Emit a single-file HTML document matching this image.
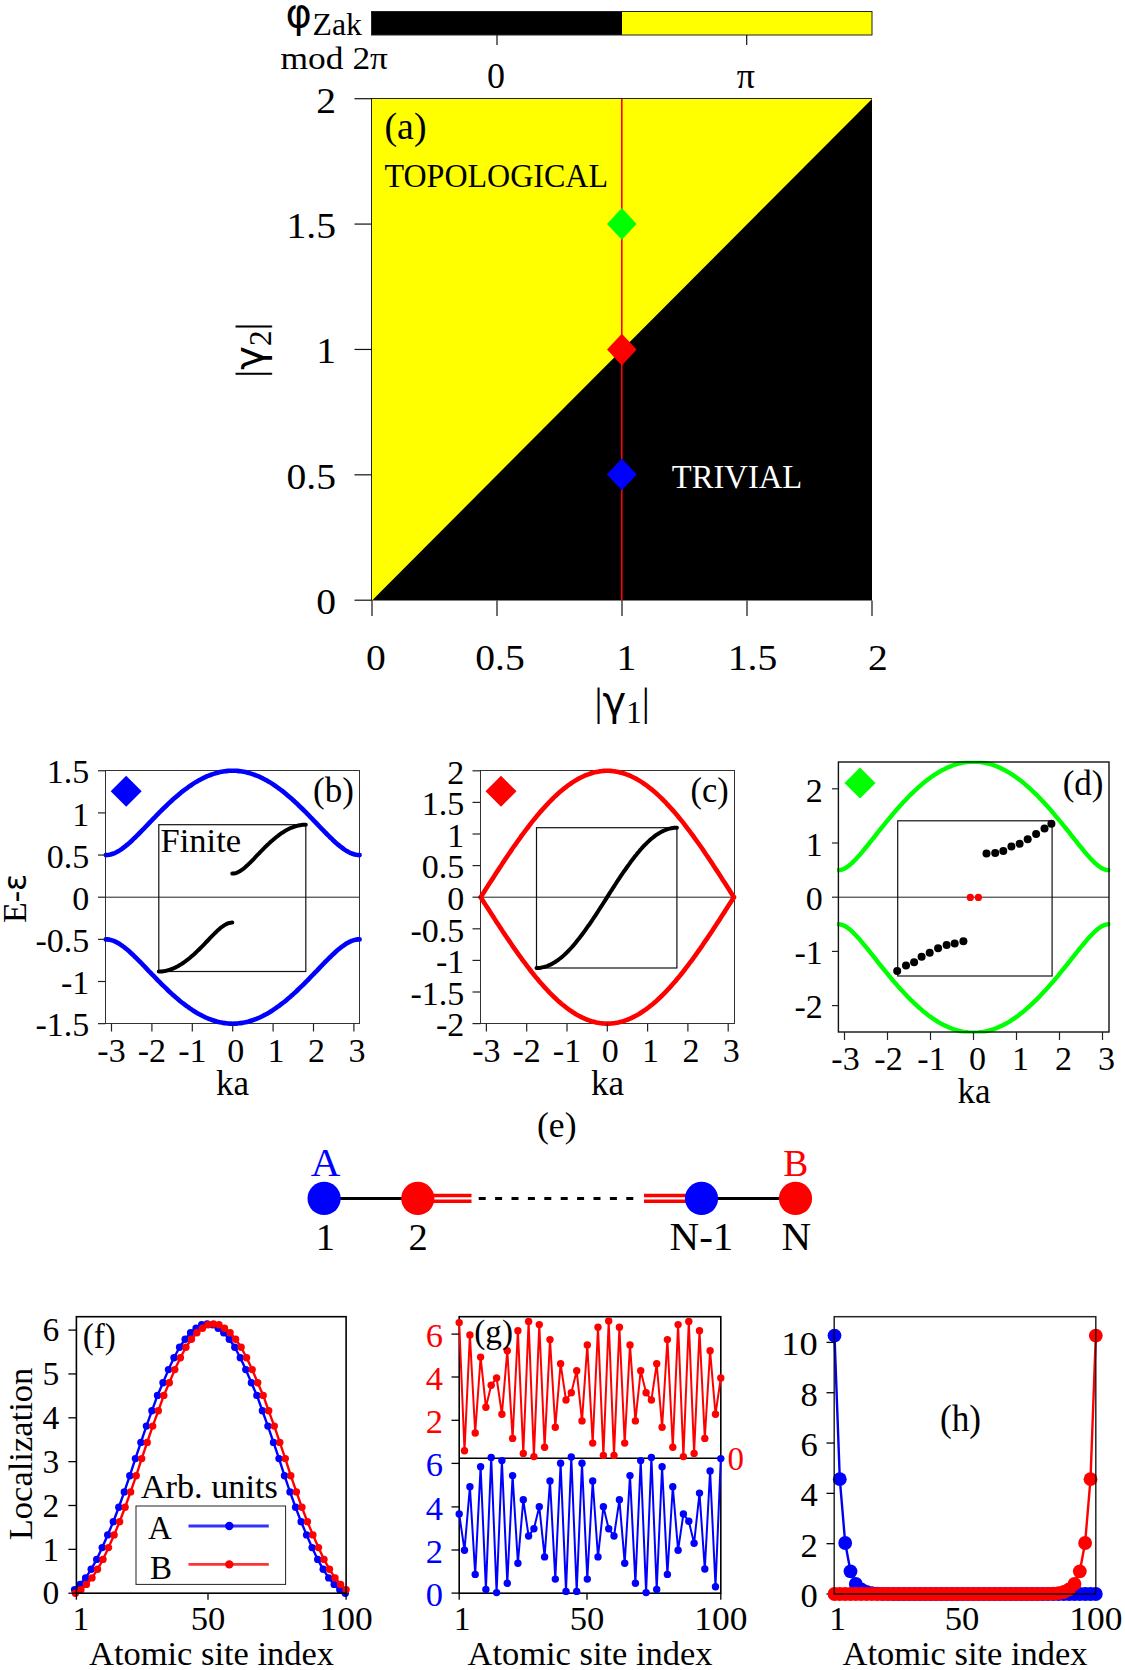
<!DOCTYPE html>
<html><head><meta charset="utf-8"><title>Figure</title>
<style>html,body{margin:0;padding:0;background:#fff}svg{display:block}</style></head>
<body>
<svg width="1125" height="1670" viewBox="0 0 1125 1670">
<rect width="1125" height="1670" fill="#fff"/>
<rect x="372" y="11.5" width="250" height="23.5" fill="#000" stroke="none" stroke-width="1"/>
<rect x="622" y="11.5" width="250" height="23.5" fill="#ffff00" stroke="none" stroke-width="1"/>
<rect x="371.5" y="11.5" width="500.5" height="23.5" fill="none" stroke="#222" stroke-width="1"/>
<line x1="497" y1="35" x2="497" y2="45" stroke="#111" stroke-width="1.2"/>
<line x1="746.7" y1="35" x2="746.7" y2="45" stroke="#111" stroke-width="1.2"/>
<text x="496" y="87.6" font-size="36" font-family='"Liberation Serif", serif' fill="#000" text-anchor="middle">0</text>
<text x="745.8" y="87.6" font-size="36" font-family='"Liberation Serif", serif' fill="#000" text-anchor="middle">π</text>
<text x="285.5" y="26.8" font-size="40" font-family='"DejaVu Sans", sans-serif' fill="#000">φ</text>
<text x="312.5" y="35" font-size="31" font-family='"Liberation Serif", serif' fill="#000" textLength="49.5" lengthAdjust="spacingAndGlyphs">Zak</text>
<text x="280.5" y="68.5" font-size="32" font-family='"Liberation Serif", serif' fill="#000" textLength="107.5" lengthAdjust="spacingAndGlyphs">mod 2π</text>
<rect x="372" y="99" width="500" height="501.5" fill="#000" stroke="none" stroke-width="1"/>
<polygon points="372,99 872,99 372,600.5" fill="#ffff00"/>
<line x1="372" y1="98.5" x2="872" y2="98.5" stroke="#222" stroke-width="1"/>
<line x1="371.5" y1="98" x2="371.5" y2="600.5" stroke="#222" stroke-width="1"/>
<line x1="621.8" y1="99" x2="621.8" y2="600.5" stroke="#ff0000" stroke-width="1.6"/>
<line x1="354.5" y1="600.2" x2="372" y2="600.2" stroke="#111" stroke-width="1.2"/>
<text x="336" y="614.1" font-size="36" font-family='"Liberation Serif", serif' fill="#000" text-anchor="end" textLength="19.8" lengthAdjust="spacingAndGlyphs">0</text>
<line x1="372.0" y1="600.5" x2="372.0" y2="616" stroke="#111" stroke-width="1.2"/>
<text x="376.0" y="670.2" font-size="36" font-family='"Liberation Serif", serif' fill="#000" text-anchor="middle" textLength="19.8" lengthAdjust="spacingAndGlyphs">0</text>
<line x1="354.5" y1="474.825" x2="372" y2="474.825" stroke="#111" stroke-width="1.2"/>
<text x="336" y="488.725" font-size="36" font-family='"Liberation Serif", serif' fill="#000" text-anchor="end" textLength="49.5" lengthAdjust="spacingAndGlyphs">0.5</text>
<line x1="497.0" y1="600.5" x2="497.0" y2="616" stroke="#111" stroke-width="1.2"/>
<text x="500.0" y="670.2" font-size="36" font-family='"Liberation Serif", serif' fill="#000" text-anchor="middle" textLength="49.5" lengthAdjust="spacingAndGlyphs">0.5</text>
<line x1="354.5" y1="349.45" x2="372" y2="349.45" stroke="#111" stroke-width="1.2"/>
<text x="336" y="363.35" font-size="36" font-family='"Liberation Serif", serif' fill="#000" text-anchor="end" textLength="19.8" lengthAdjust="spacingAndGlyphs">1</text>
<line x1="622.0" y1="600.5" x2="622.0" y2="616" stroke="#111" stroke-width="1.2"/>
<text x="626.5" y="670.2" font-size="36" font-family='"Liberation Serif", serif' fill="#000" text-anchor="middle" textLength="19.8" lengthAdjust="spacingAndGlyphs">1</text>
<line x1="354.5" y1="224.075" x2="372" y2="224.075" stroke="#111" stroke-width="1.2"/>
<text x="336" y="237.975" font-size="36" font-family='"Liberation Serif", serif' fill="#000" text-anchor="end" textLength="49.5" lengthAdjust="spacingAndGlyphs">1.5</text>
<line x1="747.0" y1="600.5" x2="747.0" y2="616" stroke="#111" stroke-width="1.2"/>
<text x="752.5" y="670.2" font-size="36" font-family='"Liberation Serif", serif' fill="#000" text-anchor="middle" textLength="49.5" lengthAdjust="spacingAndGlyphs">1.5</text>
<line x1="354.5" y1="98.7" x2="372" y2="98.7" stroke="#111" stroke-width="1.2"/>
<text x="336" y="112.6" font-size="36" font-family='"Liberation Serif", serif' fill="#000" text-anchor="end" textLength="19.8" lengthAdjust="spacingAndGlyphs">2</text>
<line x1="872.0" y1="600.5" x2="872.0" y2="616" stroke="#111" stroke-width="1.2"/>
<text x="878.0" y="670.2" font-size="36" font-family='"Liberation Serif", serif' fill="#000" text-anchor="middle" textLength="19.8" lengthAdjust="spacingAndGlyphs">2</text>
<polygon points="607.0,223.9 621.8,208.0 636.5999999999999,223.9 621.8,239.8" fill="#00ff00"/>
<polygon points="607.0,349.6 621.8,333.70000000000005 636.5999999999999,349.6 621.8,365.5" fill="#ff0000"/>
<polygon points="606.8,474.4 621.8,458.5 636.8,474.4 621.8,490.29999999999995" fill="#0000ff"/>
<text x="384.5" y="138.5" font-size="38" font-family='"Liberation Serif", serif' fill="#000" textLength="42" lengthAdjust="spacingAndGlyphs">(a)</text>
<text x="384.5" y="187.3" font-size="33.5" font-family='"Liberation Serif", serif' fill="#000" textLength="223.5" lengthAdjust="spacingAndGlyphs">TOPOLOGICAL</text>
<text x="671.8" y="488.3" font-size="33.5" font-family='"Liberation Serif", serif' fill="#fff" textLength="130.5" lengthAdjust="spacingAndGlyphs">TRIVIAL</text>
<text x="594.6" y="714.7" font-size="40" font-family='"Liberation Serif", serif'>|<tspan font-family='"DejaVu Sans", sans-serif'>γ</tspan><tspan font-size="31" dy="8">1</tspan><tspan dy="-8">|</tspan></text>
<text x="263.3" y="377.7" font-size="40" font-family='"Liberation Serif", serif' transform="rotate(-90 263.3 377.7)">|<tspan font-family='"DejaVu Sans", sans-serif'>γ</tspan><tspan font-size="31" dy="8">2</tspan><tspan dy="-8">|</tspan></text>
<rect x="105.5" y="770.5" width="254.0" height="253.0" fill="none" stroke="#333" stroke-width="1"/>
<line x1="105.5" y1="897.2" x2="359.5" y2="897.2" stroke="#222" stroke-width="1"/>
<rect x="158.8" y="824.7" width="147.0" height="146.79999999999995" fill="none" stroke="#111" stroke-width="1.2"/>
<polyline points="105.8,855.1 107.4,855.0 109.0,854.8 110.5,854.5 112.1,854.0 113.7,853.5 115.3,852.8 116.9,852.0 118.5,851.1 120.1,850.1 121.6,849.1 123.2,847.9 124.8,846.7 126.4,845.4 128.0,844.1 129.6,842.7 131.2,841.2 132.8,839.7 134.3,838.2 135.9,836.7 137.5,835.1 139.1,833.5 140.7,831.9 142.3,830.2 143.9,828.6 145.4,827.0 147.0,825.3 148.6,823.6 150.2,822.0 151.8,820.3 153.4,818.7 155.0,817.1 156.5,815.4 158.1,813.8 159.7,812.2 161.3,810.6 162.9,809.0 164.5,807.5 166.1,806.0 167.7,804.4 169.2,802.9 170.8,801.5 172.4,800.0 174.0,798.6 175.6,797.2 177.2,795.9 178.8,794.5 180.3,793.2 181.9,791.9 183.5,790.7 185.1,789.5 186.7,788.3 188.3,787.2 189.9,786.0 191.5,785.0 193.0,783.9 194.6,782.9 196.2,781.9 197.8,781.0 199.4,780.1 201.0,779.3 202.6,778.4 204.1,777.7 205.7,776.9 207.3,776.2 208.9,775.6 210.5,775.0 212.1,774.4 213.7,773.9 215.2,773.4 216.8,772.9 218.4,772.5 220.0,772.1 221.6,771.8 223.2,771.5 224.8,771.3 226.4,771.1 227.9,770.9 229.5,770.8 231.1,770.8 232.7,770.8 234.3,770.8 235.9,770.8 237.5,770.9 239.0,771.1 240.6,771.3 242.2,771.5 243.8,771.8 245.4,772.1 247.0,772.5 248.6,772.9 250.2,773.4 251.7,773.9 253.3,774.4 254.9,775.0 256.5,775.6 258.1,776.2 259.7,776.9 261.3,777.7 262.8,778.4 264.4,779.3 266.0,780.1 267.6,781.0 269.2,781.9 270.8,782.9 272.4,783.9 273.9,785.0 275.5,786.0 277.1,787.2 278.7,788.3 280.3,789.5 281.9,790.7 283.5,791.9 285.1,793.2 286.6,794.5 288.2,795.9 289.8,797.2 291.4,798.6 293.0,800.0 294.6,801.5 296.2,802.9 297.7,804.4 299.3,806.0 300.9,807.5 302.5,809.0 304.1,810.6 305.7,812.2 307.3,813.8 308.9,815.4 310.4,817.1 312.0,818.7 313.6,820.3 315.2,822.0 316.8,823.6 318.4,825.3 320.0,827.0 321.5,828.6 323.1,830.2 324.7,831.9 326.3,833.5 327.9,835.1 329.5,836.7 331.1,838.2 332.6,839.7 334.2,841.2 335.8,842.7 337.4,844.1 339.0,845.4 340.6,846.7 342.2,847.9 343.8,849.1 345.3,850.1 346.9,851.1 348.5,852.0 350.1,852.8 351.7,853.5 353.3,854.0 354.9,854.5 356.4,854.8 358.0,855.0 359.6,855.1" fill="none" stroke="#0000ff" stroke-width="4.6" stroke-linejoin="round" stroke-linecap="round"/>
<polyline points="105.8,939.4 107.4,939.4 109.0,939.6 110.5,939.9 112.1,940.4 113.7,940.9 115.3,941.6 116.9,942.4 118.5,943.3 120.1,944.3 121.6,945.3 123.2,946.5 124.8,947.7 126.4,949.0 128.0,950.3 129.6,951.7 131.2,953.2 132.8,954.7 134.3,956.2 135.9,957.7 137.5,959.3 139.1,960.9 140.7,962.5 142.3,964.2 143.9,965.8 145.4,967.4 147.0,969.1 148.6,970.8 150.2,972.4 151.8,974.1 153.4,975.7 155.0,977.3 156.5,979.0 158.1,980.6 159.7,982.2 161.3,983.8 162.9,985.4 164.5,986.9 166.1,988.4 167.7,990.0 169.2,991.5 170.8,992.9 172.4,994.4 174.0,995.8 175.6,997.2 177.2,998.5 178.8,999.9 180.3,1001.2 181.9,1002.5 183.5,1003.7 185.1,1004.9 186.7,1006.1 188.3,1007.2 189.9,1008.4 191.5,1009.4 193.0,1010.5 194.6,1011.5 196.2,1012.5 197.8,1013.4 199.4,1014.3 201.0,1015.1 202.6,1016.0 204.1,1016.7 205.7,1017.5 207.3,1018.2 208.9,1018.8 210.5,1019.4 212.1,1020.0 213.7,1020.5 215.2,1021.0 216.8,1021.5 218.4,1021.9 220.0,1022.3 221.6,1022.6 223.2,1022.9 224.8,1023.1 226.4,1023.3 227.9,1023.5 229.5,1023.6 231.1,1023.6 232.7,1023.7 234.3,1023.6 235.9,1023.6 237.5,1023.5 239.0,1023.3 240.6,1023.1 242.2,1022.9 243.8,1022.6 245.4,1022.3 247.0,1021.9 248.6,1021.5 250.2,1021.0 251.7,1020.5 253.3,1020.0 254.9,1019.4 256.5,1018.8 258.1,1018.2 259.7,1017.5 261.3,1016.7 262.8,1016.0 264.4,1015.1 266.0,1014.3 267.6,1013.4 269.2,1012.5 270.8,1011.5 272.4,1010.5 273.9,1009.4 275.5,1008.4 277.1,1007.2 278.7,1006.1 280.3,1004.9 281.9,1003.7 283.5,1002.5 285.1,1001.2 286.6,999.9 288.2,998.5 289.8,997.2 291.4,995.8 293.0,994.4 294.6,992.9 296.2,991.5 297.7,990.0 299.3,988.4 300.9,986.9 302.5,985.4 304.1,983.8 305.7,982.2 307.3,980.6 308.9,979.0 310.4,977.3 312.0,975.7 313.6,974.1 315.2,972.4 316.8,970.8 318.4,969.1 320.0,967.4 321.5,965.8 323.1,964.2 324.7,962.5 326.3,960.9 327.9,959.3 329.5,957.7 331.1,956.2 332.6,954.7 334.2,953.2 335.8,951.7 337.4,950.3 339.0,949.0 340.6,947.7 342.2,946.5 343.8,945.3 345.3,944.3 346.9,943.3 348.5,942.4 350.1,941.6 351.7,940.9 353.3,940.4 354.9,939.9 356.4,939.6 358.0,939.4 359.6,939.4" fill="none" stroke="#0000ff" stroke-width="4.6" stroke-linejoin="round" stroke-linecap="round"/>
<line x1="98" y1="770.75" x2="105.5" y2="770.75" stroke="#222" stroke-width="1.2"/>
<text x="89.3" y="783.45" font-size="34" font-family='"Liberation Serif", serif' fill="#000" text-anchor="end">1.5</text>
<line x1="98" y1="812.9000000000001" x2="105.5" y2="812.9000000000001" stroke="#222" stroke-width="1.2"/>
<text x="89.3" y="825.6000000000001" font-size="34" font-family='"Liberation Serif", serif' fill="#000" text-anchor="end">1</text>
<line x1="98" y1="855.0500000000001" x2="105.5" y2="855.0500000000001" stroke="#222" stroke-width="1.2"/>
<text x="89.3" y="867.7500000000001" font-size="34" font-family='"Liberation Serif", serif' fill="#000" text-anchor="end">0.5</text>
<line x1="98" y1="897.2" x2="105.5" y2="897.2" stroke="#222" stroke-width="1.2"/>
<text x="89.3" y="909.9000000000001" font-size="34" font-family='"Liberation Serif", serif' fill="#000" text-anchor="end">0</text>
<line x1="98" y1="939.35" x2="105.5" y2="939.35" stroke="#222" stroke-width="1.2"/>
<text x="89.3" y="952.0500000000001" font-size="34" font-family='"Liberation Serif", serif' fill="#000" text-anchor="end">-0.5</text>
<line x1="98" y1="981.5" x2="105.5" y2="981.5" stroke="#222" stroke-width="1.2"/>
<text x="89.3" y="994.2" font-size="34" font-family='"Liberation Serif", serif' fill="#000" text-anchor="end">-1</text>
<line x1="98" y1="1023.6500000000001" x2="105.5" y2="1023.6500000000001" stroke="#222" stroke-width="1.2"/>
<text x="89.3" y="1036.3500000000001" font-size="34" font-family='"Liberation Serif", serif' fill="#000" text-anchor="end">-1.5</text>
<line x1="111.5" y1="1023.5" x2="111.5" y2="1031.5" stroke="#222" stroke-width="1.2"/>
<text x="111.5" y="1061.5" font-size="34" font-family='"Liberation Serif", serif' fill="#000" text-anchor="middle">-3</text>
<line x1="151.89999999999998" y1="1023.5" x2="151.89999999999998" y2="1031.5" stroke="#222" stroke-width="1.2"/>
<text x="151.89999999999998" y="1061.5" font-size="34" font-family='"Liberation Serif", serif' fill="#000" text-anchor="middle">-2</text>
<line x1="192.29999999999998" y1="1023.5" x2="192.29999999999998" y2="1031.5" stroke="#222" stroke-width="1.2"/>
<text x="192.29999999999998" y="1061.5" font-size="34" font-family='"Liberation Serif", serif' fill="#000" text-anchor="middle">-1</text>
<line x1="232.7" y1="1023.5" x2="232.7" y2="1031.5" stroke="#222" stroke-width="1.2"/>
<text x="235.7" y="1061.5" font-size="34" font-family='"Liberation Serif", serif' fill="#000" text-anchor="middle">0</text>
<line x1="273.09999999999997" y1="1023.5" x2="273.09999999999997" y2="1031.5" stroke="#222" stroke-width="1.2"/>
<text x="276.09999999999997" y="1061.5" font-size="34" font-family='"Liberation Serif", serif' fill="#000" text-anchor="middle">1</text>
<line x1="313.5" y1="1023.5" x2="313.5" y2="1031.5" stroke="#222" stroke-width="1.2"/>
<text x="316.5" y="1061.5" font-size="34" font-family='"Liberation Serif", serif' fill="#000" text-anchor="middle">2</text>
<line x1="353.9" y1="1023.5" x2="353.9" y2="1031.5" stroke="#222" stroke-width="1.2"/>
<text x="356.9" y="1061.5" font-size="34" font-family='"Liberation Serif", serif' fill="#000" text-anchor="middle">3</text>
<text x="232.5" y="1094.7" font-size="35" font-family='"Liberation Serif", serif' fill="#000" text-anchor="middle">ka</text>
<text x="313" y="802.3" font-size="35" font-family='"Liberation Serif", serif' fill="#000" textLength="40.8" lengthAdjust="spacingAndGlyphs">(b)</text>
<polygon points="110.7,791.2 126.2,775.7 141.7,791.2 126.2,806.7" fill="#0000ff"/>
<polyline points="158.8,971.5 160.3,971.5 161.7,971.4 163.2,971.2 164.7,971.0 166.2,970.7 167.6,970.3 169.1,969.9 170.6,969.5 172.0,968.9 173.5,968.3 175.0,967.7 176.4,966.9 177.9,966.2 179.4,965.3 180.9,964.4 182.3,963.5 183.8,962.5 185.3,961.4 186.7,960.3 188.2,959.2 189.7,958.0 191.1,956.8 192.6,955.5 194.1,954.2 195.6,952.8 197.0,951.4 198.5,950.0 200.0,948.5 201.4,947.1 202.9,945.6 204.4,944.1 205.8,942.5 207.3,941.0 208.8,939.5 210.2,937.9 211.7,936.4 213.2,934.9 214.7,933.4 216.1,932.0 217.6,930.6 219.1,929.3 220.5,928.0 222.0,926.8 223.5,925.8 225.0,924.9 226.4,924.1 227.9,923.4 229.4,922.9 230.8,922.7 232.3,922.6" fill="none" stroke="#000" stroke-width="4" stroke-linejoin="round" stroke-linecap="round"/>
<polyline points="232.3,873.6 233.8,873.5 235.2,873.3 236.7,872.8 238.2,872.1 239.7,871.3 241.1,870.4 242.6,869.4 244.1,868.2 245.5,866.9 247.0,865.6 248.5,864.2 249.9,862.8 251.4,861.3 252.9,859.8 254.4,858.3 255.8,856.7 257.3,855.2 258.8,853.7 260.2,852.1 261.7,850.6 263.2,849.1 264.6,847.7 266.1,846.2 267.6,844.8 269.1,843.4 270.5,842.0 272.0,840.7 273.5,839.4 274.9,838.2 276.4,837.0 277.9,835.9 279.3,834.8 280.8,833.7 282.3,832.7 283.8,831.8 285.2,830.9 286.7,830.0 288.2,829.3 289.6,828.5 291.1,827.9 292.6,827.3 294.0,826.7 295.5,826.3 297.0,825.9 298.5,825.5 299.9,825.2 301.4,825.0 302.9,824.8 304.3,824.7 305.8,824.7" fill="none" stroke="#000" stroke-width="4" stroke-linejoin="round" stroke-linecap="round"/>
<text x="160.6" y="851.5" font-size="34" font-family='"Liberation Serif", serif' fill="#000" textLength="80.5" lengthAdjust="spacingAndGlyphs">Finite</text>
<text x="26.2" y="923" font-size="34" font-family='"Liberation Serif", serif' transform="rotate(-90 26.2 923)">E-<tspan font-family='"DejaVu Sans", sans-serif' font-size="32">ε</tspan></text>
<rect x="480.5" y="770.5" width="254.0" height="253.0" fill="none" stroke="#333" stroke-width="1"/>
<line x1="480.5" y1="897.2" x2="734.5" y2="897.2" stroke="#222" stroke-width="1"/>
<rect x="536.5" y="827.7" width="140.39999999999998" height="140.29999999999995" fill="none" stroke="#111" stroke-width="1.2"/>
<polyline points="480.7,897.2 482.3,894.7 483.9,892.2 485.4,889.8 487.0,887.3 488.6,884.8 490.2,882.3 491.8,879.9 493.4,877.4 494.9,875.0 496.5,872.5 498.1,870.1 499.7,867.7 501.3,865.3 502.8,862.9 504.4,860.5 506.0,858.1 507.6,855.8 509.2,853.5 510.8,851.1 512.3,848.8 513.9,846.5 515.5,844.3 517.1,842.0 518.7,839.8 520.3,837.6 521.8,835.4 523.4,833.3 525.0,831.2 526.6,829.1 528.2,827.0 529.8,824.9 531.3,822.9 532.9,820.9 534.5,818.9 536.1,817.0 537.7,815.1 539.2,813.2 540.8,811.4 542.4,809.6 544.0,807.8 545.6,806.1 547.2,804.4 548.7,802.7 550.3,801.1 551.9,799.5 553.5,797.9 555.1,796.4 556.7,794.9 558.2,793.5 559.8,792.1 561.4,790.7 563.0,789.4 564.6,788.2 566.2,786.9 567.7,785.7 569.3,784.6 570.9,783.5 572.5,782.4 574.1,781.4 575.6,780.4 577.2,779.5 578.8,778.6 580.4,777.8 582.0,777.0 583.6,776.2 585.1,775.5 586.7,774.9 588.3,774.3 589.9,773.7 591.5,773.2 593.1,772.8 594.6,772.4 596.2,772.0 597.8,771.7 599.4,771.4 601.0,771.2 602.6,771.0 604.1,770.9 605.7,770.8 607.3,770.8 608.9,770.8 610.5,770.9 612.0,771.0 613.6,771.2 615.2,771.4 616.8,771.7 618.4,772.0 620.0,772.4 621.5,772.8 623.1,773.2 624.7,773.7 626.3,774.3 627.9,774.9 629.5,775.5 631.0,776.2 632.6,777.0 634.2,777.8 635.8,778.6 637.4,779.5 639.0,780.4 640.5,781.4 642.1,782.4 643.7,783.5 645.3,784.6 646.9,785.7 648.4,786.9 650.0,788.2 651.6,789.4 653.2,790.7 654.8,792.1 656.4,793.5 657.9,794.9 659.5,796.4 661.1,797.9 662.7,799.5 664.3,801.1 665.9,802.7 667.4,804.4 669.0,806.1 670.6,807.8 672.2,809.6 673.8,811.4 675.4,813.2 676.9,815.1 678.5,817.0 680.1,818.9 681.7,820.9 683.3,822.9 684.8,824.9 686.4,827.0 688.0,829.1 689.6,831.2 691.2,833.3 692.8,835.4 694.3,837.6 695.9,839.8 697.5,842.0 699.1,844.3 700.7,846.5 702.3,848.8 703.8,851.1 705.4,853.5 707.0,855.8 708.6,858.1 710.2,860.5 711.8,862.9 713.3,865.3 714.9,867.7 716.5,870.1 718.1,872.5 719.7,875.0 721.2,877.4 722.8,879.9 724.4,882.3 726.0,884.8 727.6,887.3 729.2,889.8 730.7,892.2 732.3,894.7 733.9,897.2" fill="none" stroke="#ff0000" stroke-width="4.6" stroke-linejoin="round" stroke-linecap="round"/>
<polyline points="480.7,897.2 482.3,899.7 483.9,902.2 485.4,904.6 487.0,907.1 488.6,909.6 490.2,912.1 491.8,914.5 493.4,917.0 494.9,919.4 496.5,921.9 498.1,924.3 499.7,926.7 501.3,929.1 502.8,931.5 504.4,933.9 506.0,936.3 507.6,938.6 509.2,940.9 510.8,943.3 512.3,945.6 513.9,947.9 515.5,950.1 517.1,952.4 518.7,954.6 520.3,956.8 521.8,959.0 523.4,961.1 525.0,963.2 526.6,965.3 528.2,967.4 529.8,969.5 531.3,971.5 532.9,973.5 534.5,975.5 536.1,977.4 537.7,979.3 539.2,981.2 540.8,983.0 542.4,984.8 544.0,986.6 545.6,988.3 547.2,990.0 548.7,991.7 550.3,993.3 551.9,994.9 553.5,996.5 555.1,998.0 556.7,999.5 558.2,1000.9 559.8,1002.3 561.4,1003.7 563.0,1005.0 564.6,1006.2 566.2,1007.5 567.7,1008.7 569.3,1009.8 570.9,1010.9 572.5,1012.0 574.1,1013.0 575.6,1014.0 577.2,1014.9 578.8,1015.8 580.4,1016.6 582.0,1017.4 583.6,1018.2 585.1,1018.9 586.7,1019.5 588.3,1020.1 589.9,1020.7 591.5,1021.2 593.1,1021.6 594.6,1022.0 596.2,1022.4 597.8,1022.7 599.4,1023.0 601.0,1023.2 602.6,1023.4 604.1,1023.5 605.7,1023.6 607.3,1023.6 608.9,1023.6 610.5,1023.5 612.0,1023.4 613.6,1023.2 615.2,1023.0 616.8,1022.7 618.4,1022.4 620.0,1022.0 621.5,1021.6 623.1,1021.2 624.7,1020.7 626.3,1020.1 627.9,1019.5 629.5,1018.9 631.0,1018.2 632.6,1017.4 634.2,1016.6 635.8,1015.8 637.4,1014.9 639.0,1014.0 640.5,1013.0 642.1,1012.0 643.7,1010.9 645.3,1009.8 646.9,1008.7 648.4,1007.5 650.0,1006.2 651.6,1005.0 653.2,1003.7 654.8,1002.3 656.4,1000.9 657.9,999.5 659.5,998.0 661.1,996.5 662.7,994.9 664.3,993.3 665.9,991.7 667.4,990.0 669.0,988.3 670.6,986.6 672.2,984.8 673.8,983.0 675.4,981.2 676.9,979.3 678.5,977.4 680.1,975.5 681.7,973.5 683.3,971.5 684.8,969.5 686.4,967.4 688.0,965.3 689.6,963.2 691.2,961.1 692.8,959.0 694.3,956.8 695.9,954.6 697.5,952.4 699.1,950.1 700.7,947.9 702.3,945.6 703.8,943.3 705.4,940.9 707.0,938.6 708.6,936.3 710.2,933.9 711.8,931.5 713.3,929.1 714.9,926.7 716.5,924.3 718.1,921.9 719.7,919.4 721.2,917.0 722.8,914.5 724.4,912.1 726.0,909.6 727.6,907.1 729.2,904.6 730.7,902.2 732.3,899.7 733.9,897.2" fill="none" stroke="#ff0000" stroke-width="4.6" stroke-linejoin="round" stroke-linecap="round"/>
<line x1="472.5" y1="770.8000000000001" x2="480.5" y2="770.8000000000001" stroke="#222" stroke-width="1.2"/>
<text x="464.3" y="783.5000000000001" font-size="34" font-family='"Liberation Serif", serif' fill="#000" text-anchor="end">2</text>
<line x1="472.5" y1="802.4000000000001" x2="480.5" y2="802.4000000000001" stroke="#222" stroke-width="1.2"/>
<text x="464.3" y="815.1000000000001" font-size="34" font-family='"Liberation Serif", serif' fill="#000" text-anchor="end">1.5</text>
<line x1="472.5" y1="834.0" x2="480.5" y2="834.0" stroke="#222" stroke-width="1.2"/>
<text x="464.3" y="846.7" font-size="34" font-family='"Liberation Serif", serif' fill="#000" text-anchor="end">1</text>
<line x1="472.5" y1="865.6" x2="480.5" y2="865.6" stroke="#222" stroke-width="1.2"/>
<text x="464.3" y="878.3000000000001" font-size="34" font-family='"Liberation Serif", serif' fill="#000" text-anchor="end">0.5</text>
<line x1="472.5" y1="897.2" x2="480.5" y2="897.2" stroke="#222" stroke-width="1.2"/>
<text x="464.3" y="909.9000000000001" font-size="34" font-family='"Liberation Serif", serif' fill="#000" text-anchor="end">0</text>
<line x1="472.5" y1="928.8000000000001" x2="480.5" y2="928.8000000000001" stroke="#222" stroke-width="1.2"/>
<text x="464.3" y="941.5000000000001" font-size="34" font-family='"Liberation Serif", serif' fill="#000" text-anchor="end">-0.5</text>
<line x1="472.5" y1="960.4000000000001" x2="480.5" y2="960.4000000000001" stroke="#222" stroke-width="1.2"/>
<text x="464.3" y="973.1000000000001" font-size="34" font-family='"Liberation Serif", serif' fill="#000" text-anchor="end">-1</text>
<line x1="472.5" y1="992.0" x2="480.5" y2="992.0" stroke="#222" stroke-width="1.2"/>
<text x="464.3" y="1004.7" font-size="34" font-family='"Liberation Serif", serif' fill="#000" text-anchor="end">-1.5</text>
<line x1="472.5" y1="1023.6" x2="480.5" y2="1023.6" stroke="#222" stroke-width="1.2"/>
<text x="464.3" y="1036.3" font-size="34" font-family='"Liberation Serif", serif' fill="#000" text-anchor="end">-2</text>
<line x1="486.4" y1="1023.5" x2="486.4" y2="1031.5" stroke="#222" stroke-width="1.2"/>
<text x="486.4" y="1061.5" font-size="34" font-family='"Liberation Serif", serif' fill="#000" text-anchor="middle">-3</text>
<line x1="526.6999999999999" y1="1023.5" x2="526.6999999999999" y2="1031.5" stroke="#222" stroke-width="1.2"/>
<text x="526.6999999999999" y="1061.5" font-size="34" font-family='"Liberation Serif", serif' fill="#000" text-anchor="middle">-2</text>
<line x1="567.0" y1="1023.5" x2="567.0" y2="1031.5" stroke="#222" stroke-width="1.2"/>
<text x="567.0" y="1061.5" font-size="34" font-family='"Liberation Serif", serif' fill="#000" text-anchor="middle">-1</text>
<line x1="607.3" y1="1023.5" x2="607.3" y2="1031.5" stroke="#222" stroke-width="1.2"/>
<text x="610.3" y="1061.5" font-size="34" font-family='"Liberation Serif", serif' fill="#000" text-anchor="middle">0</text>
<line x1="647.5999999999999" y1="1023.5" x2="647.5999999999999" y2="1031.5" stroke="#222" stroke-width="1.2"/>
<text x="650.5999999999999" y="1061.5" font-size="34" font-family='"Liberation Serif", serif' fill="#000" text-anchor="middle">1</text>
<line x1="687.9" y1="1023.5" x2="687.9" y2="1031.5" stroke="#222" stroke-width="1.2"/>
<text x="690.9" y="1061.5" font-size="34" font-family='"Liberation Serif", serif' fill="#000" text-anchor="middle">2</text>
<line x1="728.1999999999999" y1="1023.5" x2="728.1999999999999" y2="1031.5" stroke="#222" stroke-width="1.2"/>
<text x="731.1999999999999" y="1061.5" font-size="34" font-family='"Liberation Serif", serif' fill="#000" text-anchor="middle">3</text>
<text x="607.5" y="1094.7" font-size="35" font-family='"Liberation Serif", serif' fill="#000" text-anchor="middle">ka</text>
<text x="690.5" y="802.1" font-size="35" font-family='"Liberation Serif", serif' fill="#000" textLength="38.1" lengthAdjust="spacingAndGlyphs">(c)</text>
<polygon points="485.5,791.2 501,775.7 516.5,791.2 501,806.7" fill="#ff0000"/>
<polyline points="536.5,968.0 537.9,968.0 539.3,967.9 540.7,967.7 542.1,967.4 543.5,967.1 544.9,966.8 546.3,966.3 547.7,965.8 549.1,965.2 550.5,964.6 551.9,963.9 553.3,963.1 554.8,962.2 556.2,961.3 557.6,960.4 559.0,959.3 560.4,958.2 561.8,957.1 563.2,955.9 564.6,954.6 566.0,953.3 567.4,951.9 568.8,950.5 570.2,949.0 571.6,947.5 573.0,945.9 574.4,944.2 575.8,942.6 577.2,940.8 578.6,939.1 580.0,937.3 581.4,935.4 582.8,933.6 584.2,931.6 585.6,929.7 587.0,927.7 588.4,925.7 589.9,923.7 591.3,921.6 592.7,919.5 594.1,917.4 595.5,915.3 596.9,913.2 598.3,911.0 599.7,908.8 601.1,906.6 602.5,904.5 603.9,902.3 605.3,900.1 606.7,897.9 608.1,895.6 609.5,893.4 610.9,891.2 612.3,889.1 613.7,886.9 615.1,884.7 616.5,882.5 617.9,880.4 619.3,878.3 620.7,876.2 622.1,874.1 623.5,872.0 625.0,870.0 626.4,868.0 627.8,866.0 629.2,864.1 630.6,862.1 632.0,860.3 633.4,858.4 634.8,856.6 636.2,854.9 637.6,853.1 639.0,851.5 640.4,849.8 641.8,848.2 643.2,846.7 644.6,845.2 646.0,843.8 647.4,842.4 648.8,841.1 650.2,839.8 651.6,838.6 653.0,837.5 654.4,836.4 655.8,835.3 657.2,834.4 658.6,833.5 660.1,832.6 661.5,831.8 662.9,831.1 664.3,830.5 665.7,829.9 667.1,829.4 668.5,828.9 669.9,828.6 671.3,828.3 672.7,828.0 674.1,827.8 675.5,827.7 676.9,827.7" fill="none" stroke="#000" stroke-width="4" stroke-linejoin="round" stroke-linecap="round"/>
<clipPath id="clipd"><rect x="837" y="760.8" width="273.5" height="272.6"/></clipPath>
<line x1="838.4" y1="897.2" x2="1109" y2="897.2" stroke="#222" stroke-width="1"/>
<rect x="897.7" y="820.8" width="154.39999999999986" height="155.20000000000005" fill="none" stroke="#111" stroke-width="1.2"/>
<polyline points="838.4,870.1 840.1,870.0 841.8,869.6 843.5,869.0 845.2,868.2 846.9,867.1 848.5,865.9 850.2,864.6 851.9,863.1 853.6,861.4 855.3,859.7 857.0,857.9 858.7,856.0 860.4,854.1 862.1,852.1 863.7,850.1 865.4,848.0 867.1,846.0 868.8,843.9 870.5,841.7 872.2,839.6 873.9,837.5 875.6,835.4 877.2,833.2 878.9,831.1 880.6,829.0 882.3,826.9 884.0,824.8 885.7,822.7 887.4,820.7 889.1,818.6 890.8,816.6 892.4,814.6 894.1,812.6 895.8,810.7 897.5,808.7 899.2,806.8 900.9,804.9 902.6,803.1 904.3,801.3 906.0,799.5 907.6,797.7 909.3,796.0 911.0,794.3 912.7,792.7 914.4,791.1 916.1,789.5 917.8,787.9 919.5,786.4 921.2,785.0 922.8,783.5 924.5,782.1 926.2,780.8 927.9,779.5 929.6,778.2 931.3,777.0 933.0,775.8 934.7,774.7 936.4,773.6 938.0,772.6 939.7,771.6 941.4,770.6 943.1,769.7 944.8,768.9 946.5,768.1 948.2,767.3 949.9,766.6 951.5,765.9 953.2,765.3 954.9,764.7 956.6,764.2 958.3,763.7 960.0,763.3 961.7,762.9 963.4,762.6 965.1,762.3 966.7,762.1 968.4,761.9 970.1,761.8 971.8,761.7 973.5,761.7 975.2,761.7 976.9,761.8 978.6,761.9 980.3,762.1 981.9,762.3 983.6,762.6 985.3,762.9 987.0,763.3 988.7,763.7 990.4,764.2 992.1,764.7 993.8,765.3 995.5,765.9 997.1,766.6 998.8,767.3 1000.5,768.1 1002.2,768.9 1003.9,769.7 1005.6,770.6 1007.3,771.6 1009.0,772.6 1010.6,773.6 1012.3,774.7 1014.0,775.8 1015.7,777.0 1017.4,778.2 1019.1,779.5 1020.8,780.8 1022.5,782.1 1024.2,783.5 1025.8,785.0 1027.5,786.4 1029.2,787.9 1030.9,789.5 1032.6,791.1 1034.3,792.7 1036.0,794.3 1037.7,796.0 1039.4,797.7 1041.0,799.5 1042.7,801.3 1044.4,803.1 1046.1,804.9 1047.8,806.8 1049.5,808.7 1051.2,810.7 1052.9,812.6 1054.6,814.6 1056.2,816.6 1057.9,818.6 1059.6,820.7 1061.3,822.7 1063.0,824.8 1064.7,826.9 1066.4,829.0 1068.1,831.1 1069.8,833.2 1071.4,835.4 1073.1,837.5 1074.8,839.6 1076.5,841.7 1078.2,843.9 1079.9,846.0 1081.6,848.0 1083.3,850.1 1084.9,852.1 1086.6,854.1 1088.3,856.0 1090.0,857.9 1091.7,859.7 1093.4,861.4 1095.1,863.1 1096.8,864.6 1098.5,865.9 1100.1,867.1 1101.8,868.2 1103.5,869.0 1105.2,869.6 1106.9,870.0 1108.6,870.1" fill="none" stroke="#00ff00" stroke-width="4.4" stroke-linejoin="round" stroke-linecap="round" clip-path="url(#clipd)"/>
<polyline points="838.4,924.3 840.1,924.4 841.8,924.8 843.5,925.4 845.2,926.2 846.9,927.3 848.5,928.5 850.2,929.8 851.9,931.3 853.6,933.0 855.3,934.7 857.0,936.5 858.7,938.4 860.4,940.3 862.1,942.3 863.7,944.3 865.4,946.4 867.1,948.4 868.8,950.5 870.5,952.7 872.2,954.8 873.9,956.9 875.6,959.0 877.2,961.2 878.9,963.3 880.6,965.4 882.3,967.5 884.0,969.6 885.7,971.7 887.4,973.7 889.1,975.8 890.8,977.8 892.4,979.8 894.1,981.8 895.8,983.7 897.5,985.7 899.2,987.6 900.9,989.5 902.6,991.3 904.3,993.1 906.0,994.9 907.6,996.7 909.3,998.4 911.0,1000.1 912.7,1001.7 914.4,1003.3 916.1,1004.9 917.8,1006.5 919.5,1008.0 921.2,1009.4 922.8,1010.9 924.5,1012.3 926.2,1013.6 927.9,1014.9 929.6,1016.2 931.3,1017.4 933.0,1018.6 934.7,1019.7 936.4,1020.8 938.0,1021.8 939.7,1022.8 941.4,1023.8 943.1,1024.7 944.8,1025.5 946.5,1026.3 948.2,1027.1 949.9,1027.8 951.5,1028.5 953.2,1029.1 954.9,1029.7 956.6,1030.2 958.3,1030.7 960.0,1031.1 961.7,1031.5 963.4,1031.8 965.1,1032.1 966.7,1032.3 968.4,1032.5 970.1,1032.6 971.8,1032.7 973.5,1032.7 975.2,1032.7 976.9,1032.6 978.6,1032.5 980.3,1032.3 981.9,1032.1 983.6,1031.8 985.3,1031.5 987.0,1031.1 988.7,1030.7 990.4,1030.2 992.1,1029.7 993.8,1029.1 995.5,1028.5 997.1,1027.8 998.8,1027.1 1000.5,1026.3 1002.2,1025.5 1003.9,1024.7 1005.6,1023.8 1007.3,1022.8 1009.0,1021.8 1010.6,1020.8 1012.3,1019.7 1014.0,1018.6 1015.7,1017.4 1017.4,1016.2 1019.1,1014.9 1020.8,1013.6 1022.5,1012.3 1024.2,1010.9 1025.8,1009.4 1027.5,1008.0 1029.2,1006.5 1030.9,1004.9 1032.6,1003.3 1034.3,1001.7 1036.0,1000.1 1037.7,998.4 1039.4,996.7 1041.0,994.9 1042.7,993.1 1044.4,991.3 1046.1,989.5 1047.8,987.6 1049.5,985.7 1051.2,983.7 1052.9,981.8 1054.6,979.8 1056.2,977.8 1057.9,975.8 1059.6,973.7 1061.3,971.7 1063.0,969.6 1064.7,967.5 1066.4,965.4 1068.1,963.3 1069.8,961.2 1071.4,959.0 1073.1,956.9 1074.8,954.8 1076.5,952.7 1078.2,950.5 1079.9,948.4 1081.6,946.4 1083.3,944.3 1084.9,942.3 1086.6,940.3 1088.3,938.4 1090.0,936.5 1091.7,934.7 1093.4,933.0 1095.1,931.3 1096.8,929.8 1098.5,928.5 1100.1,927.3 1101.8,926.2 1103.5,925.4 1105.2,924.8 1106.9,924.4 1108.6,924.3" fill="none" stroke="#00ff00" stroke-width="4.4" stroke-linejoin="round" stroke-linecap="round" clip-path="url(#clipd)"/>
<rect x="838.4" y="762" width="270.6" height="270" fill="none" stroke="#111" stroke-width="1.4"/>
<line x1="832" y1="788.8000000000001" x2="838.4" y2="788.8000000000001" stroke="#222" stroke-width="1.2"/>
<text x="822.8" y="801.5000000000001" font-size="34" font-family='"Liberation Serif", serif' fill="#000" text-anchor="end">2</text>
<line x1="832" y1="843.0" x2="838.4" y2="843.0" stroke="#222" stroke-width="1.2"/>
<text x="822.8" y="855.7" font-size="34" font-family='"Liberation Serif", serif' fill="#000" text-anchor="end">1</text>
<line x1="832" y1="897.2" x2="838.4" y2="897.2" stroke="#222" stroke-width="1.2"/>
<text x="822.8" y="909.9000000000001" font-size="34" font-family='"Liberation Serif", serif' fill="#000" text-anchor="end">0</text>
<line x1="832" y1="951.4000000000001" x2="838.4" y2="951.4000000000001" stroke="#222" stroke-width="1.2"/>
<text x="822.8" y="964.1000000000001" font-size="34" font-family='"Liberation Serif", serif' fill="#000" text-anchor="end">-1</text>
<line x1="832" y1="1005.6" x2="838.4" y2="1005.6" stroke="#222" stroke-width="1.2"/>
<text x="822.8" y="1018.3000000000001" font-size="34" font-family='"Liberation Serif", serif' fill="#000" text-anchor="end">-2</text>
<line x1="844.5" y1="1032" x2="844.5" y2="1040" stroke="#222" stroke-width="1.2"/>
<text x="845.5" y="1070" font-size="34" font-family='"Liberation Serif", serif' fill="#000" text-anchor="middle">-3</text>
<line x1="887.5" y1="1032" x2="887.5" y2="1040" stroke="#222" stroke-width="1.2"/>
<text x="888.5" y="1070" font-size="34" font-family='"Liberation Serif", serif' fill="#000" text-anchor="middle">-2</text>
<line x1="930.5" y1="1032" x2="930.5" y2="1040" stroke="#222" stroke-width="1.2"/>
<text x="931.5" y="1070" font-size="34" font-family='"Liberation Serif", serif' fill="#000" text-anchor="middle">-1</text>
<line x1="973.5" y1="1032" x2="973.5" y2="1040" stroke="#222" stroke-width="1.2"/>
<text x="977.5" y="1070" font-size="34" font-family='"Liberation Serif", serif' fill="#000" text-anchor="middle">0</text>
<line x1="1016.5" y1="1032" x2="1016.5" y2="1040" stroke="#222" stroke-width="1.2"/>
<text x="1020.5" y="1070" font-size="34" font-family='"Liberation Serif", serif' fill="#000" text-anchor="middle">1</text>
<line x1="1059.5" y1="1032" x2="1059.5" y2="1040" stroke="#222" stroke-width="1.2"/>
<text x="1063.5" y="1070" font-size="34" font-family='"Liberation Serif", serif' fill="#000" text-anchor="middle">2</text>
<line x1="1102.5" y1="1032" x2="1102.5" y2="1040" stroke="#222" stroke-width="1.2"/>
<text x="1106.5" y="1070" font-size="34" font-family='"Liberation Serif", serif' fill="#000" text-anchor="middle">3</text>
<text x="974" y="1102.7" font-size="35" font-family='"Liberation Serif", serif' fill="#000" text-anchor="middle">ka</text>
<text x="1062.7" y="794.7" font-size="35" font-family='"Liberation Serif", serif' fill="#000" textLength="40.8" lengthAdjust="spacingAndGlyphs">(d)</text>
<polygon points="844.5,782.9 860,767.4 875.5,782.9 860,798.4" fill="#00ff00"/>
<circle cx="986.5" cy="853.6" r="4" fill="#000"/>
<circle cx="995.2" cy="852.9" r="4" fill="#000"/>
<circle cx="1003.3" cy="851.0" r="4" fill="#000"/>
<circle cx="1011.4" cy="846.4" r="4" fill="#000"/>
<circle cx="1019.6" cy="843.8" r="4" fill="#000"/>
<circle cx="1027.7" cy="839.3" r="4" fill="#000"/>
<circle cx="1036.1" cy="834.1" r="4" fill="#000"/>
<circle cx="1044.5" cy="828.6" r="4" fill="#000"/>
<circle cx="1051.4" cy="823.7" r="4" fill="#000"/>
<circle cx="897.2" cy="971.0" r="4" fill="#000"/>
<circle cx="906.0" cy="965.5" r="4" fill="#000"/>
<circle cx="914.1" cy="962.2" r="4" fill="#000"/>
<circle cx="921.6" cy="956.7" r="4" fill="#000"/>
<circle cx="929.7" cy="952.8" r="4" fill="#000"/>
<circle cx="938.1" cy="948.3" r="4" fill="#000"/>
<circle cx="946.6" cy="945.0" r="4" fill="#000"/>
<circle cx="954.7" cy="943.4" r="4" fill="#000"/>
<circle cx="963.4" cy="941.2" r="4" fill="#000"/>
<circle cx="970.3" cy="897.4" r="3.6" fill="#ff0000"/>
<circle cx="978.4" cy="897.4" r="3.6" fill="#ff0000"/>
<text x="537" y="1137" font-size="35" font-family='"Liberation Serif", serif' fill="#000" textLength="39.5" lengthAdjust="spacingAndGlyphs">(e)</text>
<line x1="324" y1="1198.4" x2="418" y2="1198.4" stroke="#000" stroke-width="3"/>
<line x1="701.5" y1="1198.4" x2="795.5" y2="1198.4" stroke="#000" stroke-width="3"/>
<line x1="418" y1="1195.6000000000001" x2="471.5" y2="1195.6000000000001" stroke="#ff0000" stroke-width="3.5"/>
<line x1="644" y1="1195.6000000000001" x2="701" y2="1195.6000000000001" stroke="#ff0000" stroke-width="3.5"/>
<line x1="418" y1="1201.2" x2="471.5" y2="1201.2" stroke="#ff0000" stroke-width="3.5"/>
<line x1="644" y1="1201.2" x2="701" y2="1201.2" stroke="#ff0000" stroke-width="3.5"/>
<line x1="478.7" y1="1198.4" x2="636" y2="1198.4" stroke="#000" stroke-width="3" stroke-dasharray="7 9.4"/>
<circle cx="324.1" cy="1198.4" r="16.6" fill="#0000ff"/>
<circle cx="417.8" cy="1198.4" r="16.6" fill="#ff0000"/>
<circle cx="701.5" cy="1198.4" r="16.6" fill="#0000ff"/>
<circle cx="795.5" cy="1198.4" r="16.6" fill="#ff0000"/>
<text x="325.5" y="1176" font-size="41" font-family='"Liberation Serif", serif' fill="#0000ff" text-anchor="middle">A</text>
<text x="795.8" y="1175.5" font-size="37.5" font-family='"Liberation Serif", serif' fill="#ff0000" text-anchor="middle">B</text>
<text x="325.3" y="1249.8" font-size="38.5" font-family='"Liberation Serif", serif' fill="#000" text-anchor="middle">1</text>
<text x="418" y="1249.8" font-size="38.5" font-family='"Liberation Serif", serif' fill="#000" text-anchor="middle">2</text>
<text x="701.5" y="1249.8" font-size="41" font-family='"Liberation Serif", serif' fill="#000" text-anchor="middle">N-1</text>
<text x="796.3" y="1249.8" font-size="41" font-family='"Liberation Serif", serif' fill="#000" text-anchor="middle">N</text>
<polyline points="74.6,1589.7 80.1,1584.4 85.6,1577.9 91.2,1569.3 96.7,1559.4 102.2,1547.6 107.7,1534.9 113.3,1521.7 118.8,1507.3 124.3,1491.9 129.8,1475.7 135.4,1458.6 140.9,1442.4 146.4,1426.1 151.9,1410.8 157.5,1395.4 163.0,1382.7 168.5,1369.6 174.0,1357.7 179.6,1347.2 185.1,1339.3 190.6,1332.7 196.1,1328.3 201.7,1324.8 207.2,1324.0 212.7,1324.8 218.2,1328.3 223.7,1332.7 229.3,1339.3 234.8,1347.2 240.3,1357.7 245.8,1369.6 251.4,1382.7 256.9,1395.4 262.4,1410.8 267.9,1426.1 273.5,1442.4 279.0,1458.6 284.5,1475.7 290.0,1491.9 295.6,1507.3 301.1,1521.7 306.6,1534.9 312.1,1547.6 317.7,1559.4 323.2,1569.3 328.7,1577.9 334.2,1584.4 339.8,1589.7 345.3,1593.2" fill="none" stroke="#0000ff" stroke-width="2.4" stroke-linejoin="round" stroke-linecap="round"/>
<circle cx="74.6" cy="1589.7" r="3.7" fill="#0000ff"/>
<circle cx="80.1" cy="1584.4" r="3.7" fill="#0000ff"/>
<circle cx="85.6" cy="1577.9" r="3.7" fill="#0000ff"/>
<circle cx="91.2" cy="1569.3" r="3.7" fill="#0000ff"/>
<circle cx="96.7" cy="1559.4" r="3.7" fill="#0000ff"/>
<circle cx="102.2" cy="1547.6" r="3.7" fill="#0000ff"/>
<circle cx="107.7" cy="1534.9" r="3.7" fill="#0000ff"/>
<circle cx="113.3" cy="1521.7" r="3.7" fill="#0000ff"/>
<circle cx="118.8" cy="1507.3" r="3.7" fill="#0000ff"/>
<circle cx="124.3" cy="1491.9" r="3.7" fill="#0000ff"/>
<circle cx="129.8" cy="1475.7" r="3.7" fill="#0000ff"/>
<circle cx="135.4" cy="1458.6" r="3.7" fill="#0000ff"/>
<circle cx="140.9" cy="1442.4" r="3.7" fill="#0000ff"/>
<circle cx="146.4" cy="1426.1" r="3.7" fill="#0000ff"/>
<circle cx="151.9" cy="1410.8" r="3.7" fill="#0000ff"/>
<circle cx="157.5" cy="1395.4" r="3.7" fill="#0000ff"/>
<circle cx="163.0" cy="1382.7" r="3.7" fill="#0000ff"/>
<circle cx="168.5" cy="1369.6" r="3.7" fill="#0000ff"/>
<circle cx="174.0" cy="1357.7" r="3.7" fill="#0000ff"/>
<circle cx="179.6" cy="1347.2" r="3.7" fill="#0000ff"/>
<circle cx="185.1" cy="1339.3" r="3.7" fill="#0000ff"/>
<circle cx="190.6" cy="1332.7" r="3.7" fill="#0000ff"/>
<circle cx="196.1" cy="1328.3" r="3.7" fill="#0000ff"/>
<circle cx="201.7" cy="1324.8" r="3.7" fill="#0000ff"/>
<circle cx="207.2" cy="1324.0" r="3.7" fill="#0000ff"/>
<circle cx="212.7" cy="1324.8" r="3.7" fill="#0000ff"/>
<circle cx="218.2" cy="1328.3" r="3.7" fill="#0000ff"/>
<circle cx="223.7" cy="1332.7" r="3.7" fill="#0000ff"/>
<circle cx="229.3" cy="1339.3" r="3.7" fill="#0000ff"/>
<circle cx="234.8" cy="1347.2" r="3.7" fill="#0000ff"/>
<circle cx="240.3" cy="1357.7" r="3.7" fill="#0000ff"/>
<circle cx="245.8" cy="1369.6" r="3.7" fill="#0000ff"/>
<circle cx="251.4" cy="1382.7" r="3.7" fill="#0000ff"/>
<circle cx="256.9" cy="1395.4" r="3.7" fill="#0000ff"/>
<circle cx="262.4" cy="1410.8" r="3.7" fill="#0000ff"/>
<circle cx="267.9" cy="1426.1" r="3.7" fill="#0000ff"/>
<circle cx="273.5" cy="1442.4" r="3.7" fill="#0000ff"/>
<circle cx="279.0" cy="1458.6" r="3.7" fill="#0000ff"/>
<circle cx="284.5" cy="1475.7" r="3.7" fill="#0000ff"/>
<circle cx="290.0" cy="1491.9" r="3.7" fill="#0000ff"/>
<circle cx="295.6" cy="1507.3" r="3.7" fill="#0000ff"/>
<circle cx="301.1" cy="1521.7" r="3.7" fill="#0000ff"/>
<circle cx="306.6" cy="1534.9" r="3.7" fill="#0000ff"/>
<circle cx="312.1" cy="1547.6" r="3.7" fill="#0000ff"/>
<circle cx="317.7" cy="1559.4" r="3.7" fill="#0000ff"/>
<circle cx="323.2" cy="1569.3" r="3.7" fill="#0000ff"/>
<circle cx="328.7" cy="1577.9" r="3.7" fill="#0000ff"/>
<circle cx="334.2" cy="1584.4" r="3.7" fill="#0000ff"/>
<circle cx="339.8" cy="1589.7" r="3.7" fill="#0000ff"/>
<circle cx="345.3" cy="1593.2" r="3.7" fill="#0000ff"/>
<polyline points="75.4,1593.2 80.9,1589.7 86.4,1584.4 92.0,1577.9 97.5,1569.3 103.0,1559.4 108.5,1547.6 114.1,1534.9 119.6,1521.7 125.1,1507.3 130.6,1491.9 136.2,1475.7 141.7,1458.6 147.2,1442.4 152.7,1426.1 158.3,1410.8 163.8,1395.4 169.3,1382.7 174.8,1369.6 180.4,1357.7 185.9,1347.2 191.4,1339.3 196.9,1332.7 202.5,1328.3 208.0,1324.8 213.5,1324.0 219.0,1324.8 224.5,1328.3 230.1,1332.7 235.6,1339.3 241.1,1347.2 246.6,1357.7 252.2,1369.6 257.7,1382.7 263.2,1395.4 268.7,1410.8 274.3,1426.1 279.8,1442.4 285.3,1458.6 290.8,1475.7 296.4,1491.9 301.9,1507.3 307.4,1521.7 312.9,1534.9 318.5,1547.6 324.0,1559.4 329.5,1569.3 335.0,1577.9 340.6,1584.4 346.1,1589.7" fill="none" stroke="#ff0000" stroke-width="2.4" stroke-linejoin="round" stroke-linecap="round"/>
<circle cx="75.4" cy="1593.2" r="3.7" fill="#ff0000"/>
<circle cx="80.9" cy="1589.7" r="3.7" fill="#ff0000"/>
<circle cx="86.4" cy="1584.4" r="3.7" fill="#ff0000"/>
<circle cx="92.0" cy="1577.9" r="3.7" fill="#ff0000"/>
<circle cx="97.5" cy="1569.3" r="3.7" fill="#ff0000"/>
<circle cx="103.0" cy="1559.4" r="3.7" fill="#ff0000"/>
<circle cx="108.5" cy="1547.6" r="3.7" fill="#ff0000"/>
<circle cx="114.1" cy="1534.9" r="3.7" fill="#ff0000"/>
<circle cx="119.6" cy="1521.7" r="3.7" fill="#ff0000"/>
<circle cx="125.1" cy="1507.3" r="3.7" fill="#ff0000"/>
<circle cx="130.6" cy="1491.9" r="3.7" fill="#ff0000"/>
<circle cx="136.2" cy="1475.7" r="3.7" fill="#ff0000"/>
<circle cx="141.7" cy="1458.6" r="3.7" fill="#ff0000"/>
<circle cx="147.2" cy="1442.4" r="3.7" fill="#ff0000"/>
<circle cx="152.7" cy="1426.1" r="3.7" fill="#ff0000"/>
<circle cx="158.3" cy="1410.8" r="3.7" fill="#ff0000"/>
<circle cx="163.8" cy="1395.4" r="3.7" fill="#ff0000"/>
<circle cx="169.3" cy="1382.7" r="3.7" fill="#ff0000"/>
<circle cx="174.8" cy="1369.6" r="3.7" fill="#ff0000"/>
<circle cx="180.4" cy="1357.7" r="3.7" fill="#ff0000"/>
<circle cx="185.9" cy="1347.2" r="3.7" fill="#ff0000"/>
<circle cx="191.4" cy="1339.3" r="3.7" fill="#ff0000"/>
<circle cx="196.9" cy="1332.7" r="3.7" fill="#ff0000"/>
<circle cx="202.5" cy="1328.3" r="3.7" fill="#ff0000"/>
<circle cx="208.0" cy="1324.8" r="3.7" fill="#ff0000"/>
<circle cx="213.5" cy="1324.0" r="3.7" fill="#ff0000"/>
<circle cx="219.0" cy="1324.8" r="3.7" fill="#ff0000"/>
<circle cx="224.5" cy="1328.3" r="3.7" fill="#ff0000"/>
<circle cx="230.1" cy="1332.7" r="3.7" fill="#ff0000"/>
<circle cx="235.6" cy="1339.3" r="3.7" fill="#ff0000"/>
<circle cx="241.1" cy="1347.2" r="3.7" fill="#ff0000"/>
<circle cx="246.6" cy="1357.7" r="3.7" fill="#ff0000"/>
<circle cx="252.2" cy="1369.6" r="3.7" fill="#ff0000"/>
<circle cx="257.7" cy="1382.7" r="3.7" fill="#ff0000"/>
<circle cx="263.2" cy="1395.4" r="3.7" fill="#ff0000"/>
<circle cx="268.7" cy="1410.8" r="3.7" fill="#ff0000"/>
<circle cx="274.3" cy="1426.1" r="3.7" fill="#ff0000"/>
<circle cx="279.8" cy="1442.4" r="3.7" fill="#ff0000"/>
<circle cx="285.3" cy="1458.6" r="3.7" fill="#ff0000"/>
<circle cx="290.8" cy="1475.7" r="3.7" fill="#ff0000"/>
<circle cx="296.4" cy="1491.9" r="3.7" fill="#ff0000"/>
<circle cx="301.9" cy="1507.3" r="3.7" fill="#ff0000"/>
<circle cx="307.4" cy="1521.7" r="3.7" fill="#ff0000"/>
<circle cx="312.9" cy="1534.9" r="3.7" fill="#ff0000"/>
<circle cx="318.5" cy="1547.6" r="3.7" fill="#ff0000"/>
<circle cx="324.0" cy="1559.4" r="3.7" fill="#ff0000"/>
<circle cx="329.5" cy="1569.3" r="3.7" fill="#ff0000"/>
<circle cx="335.0" cy="1577.9" r="3.7" fill="#ff0000"/>
<circle cx="340.6" cy="1584.4" r="3.7" fill="#ff0000"/>
<circle cx="346.1" cy="1589.7" r="3.7" fill="#ff0000"/>
<rect x="76.4" y="1316.7" width="269.70000000000005" height="276.5" fill="none" stroke="#000" stroke-width="1.6"/>
<line x1="68.4" y1="1593.2" x2="76.4" y2="1593.2" stroke="#000" stroke-width="1.3"/>
<text x="59.2" y="1604.4" font-size="33.5" font-family='"Liberation Serif", serif' fill="#000" text-anchor="end">0</text>
<line x1="68.4" y1="1549.3500000000001" x2="76.4" y2="1549.3500000000001" stroke="#000" stroke-width="1.3"/>
<text x="59.2" y="1560.5500000000002" font-size="33.5" font-family='"Liberation Serif", serif' fill="#000" text-anchor="end">1</text>
<line x1="68.4" y1="1505.5" x2="76.4" y2="1505.5" stroke="#000" stroke-width="1.3"/>
<text x="59.2" y="1516.7" font-size="33.5" font-family='"Liberation Serif", serif' fill="#000" text-anchor="end">2</text>
<line x1="68.4" y1="1461.65" x2="76.4" y2="1461.65" stroke="#000" stroke-width="1.3"/>
<text x="59.2" y="1472.8500000000001" font-size="33.5" font-family='"Liberation Serif", serif' fill="#000" text-anchor="end">3</text>
<line x1="68.4" y1="1417.8" x2="76.4" y2="1417.8" stroke="#000" stroke-width="1.3"/>
<text x="59.2" y="1429.0" font-size="33.5" font-family='"Liberation Serif", serif' fill="#000" text-anchor="end">4</text>
<line x1="68.4" y1="1373.95" x2="76.4" y2="1373.95" stroke="#000" stroke-width="1.3"/>
<text x="59.2" y="1385.15" font-size="33.5" font-family='"Liberation Serif", serif' fill="#000" text-anchor="end">5</text>
<line x1="68.4" y1="1330.1" x2="76.4" y2="1330.1" stroke="#000" stroke-width="1.3"/>
<text x="59.2" y="1341.3" font-size="33.5" font-family='"Liberation Serif", serif' fill="#000" text-anchor="end">6</text>
<line x1="76.4" y1="1593.2" x2="76.4" y2="1599.7" stroke="#000" stroke-width="1.3"/>
<text x="80.9" y="1630.2" font-size="33.5" font-family='"Liberation Serif", serif' fill="#000" text-anchor="middle">1</text>
<line x1="208" y1="1593.2" x2="208" y2="1599.7" stroke="#000" stroke-width="1.3"/>
<text x="208" y="1630.2" font-size="33.5" font-family='"Liberation Serif", serif' fill="#000" text-anchor="middle" textLength="34.6" lengthAdjust="spacingAndGlyphs">50</text>
<line x1="346.1" y1="1593.2" x2="346.1" y2="1599.7" stroke="#000" stroke-width="1.3"/>
<text x="346.1" y="1630.2" font-size="33.5" font-family='"Liberation Serif", serif' fill="#000" text-anchor="middle" textLength="53.2" lengthAdjust="spacingAndGlyphs">100</text>
<text x="211.5" y="1664.9" font-size="33" font-family='"Liberation Serif", serif' fill="#000" text-anchor="middle" textLength="245" lengthAdjust="spacingAndGlyphs">Atomic site index</text>
<text x="32.3" y="1454" font-size="34.5" font-family='"Liberation Serif", serif' fill="#000" text-anchor="middle" textLength="172.5" lengthAdjust="spacingAndGlyphs" transform="rotate(-90 32.3 1454)">Localization</text>
<text x="82.7" y="1347.5" font-size="36.5" font-family='"Liberation Serif", serif' fill="#000" textLength="33" lengthAdjust="spacingAndGlyphs">(f)</text>
<text x="140.8" y="1497.7" font-size="34" font-family='"Liberation Serif", serif' fill="#000" textLength="137" lengthAdjust="spacingAndGlyphs">Arb. units</text>
<rect x="136" y="1506" width="149.6" height="78.4" fill="#fff" stroke="#222" stroke-width="1"/>
<text x="148" y="1538.8" font-size="33" font-family='"Liberation Serif", serif' fill="#000">A</text>
<text x="150" y="1578.8" font-size="33" font-family='"Liberation Serif", serif' fill="#000">B</text>
<line x1="188.5" y1="1526" x2="268.8" y2="1526" stroke="#3333ff" stroke-width="2.8"/>
<circle cx="229.3" cy="1526" r="4.2" fill="#0000ff"/>
<line x1="188.5" y1="1564.4" x2="268.8" y2="1564.4" stroke="#ff3333" stroke-width="2.8"/>
<circle cx="229.3" cy="1564.4" r="4.2" fill="#ff0000"/>
<rect x="459.2" y="1316.7" width="261.59999999999997" height="276.5" fill="none" stroke="#000" stroke-width="1.6"/>
<line x1="459.2" y1="1458.2" x2="720.8" y2="1458.2" stroke="#000" stroke-width="1.6"/>
<polyline points="459.2,1322.6 464.5,1450.7 469.9,1334.9 475.2,1433.0 480.6,1357.1 485.9,1407.2 491.2,1385.3 496.6,1378.0 501.9,1414.2 507.3,1350.8 512.6,1438.4 517.9,1330.7 523.3,1453.4 528.6,1321.4 533.9,1456.6 539.3,1324.6 544.6,1447.3 550.0,1339.6 555.3,1427.2 560.6,1363.8 566.0,1400.0 571.3,1392.7 576.7,1370.8 582.0,1420.9 587.3,1345.0 592.7,1443.1 598.0,1327.3 603.4,1455.4 608.7,1321.0 614.0,1455.4 619.4,1327.3 624.7,1443.1 630.0,1345.0 635.4,1420.9 640.7,1370.8 646.1,1392.7 651.4,1400.0 656.7,1363.8 662.1,1427.2 667.4,1339.6 672.8,1447.3 678.1,1324.6 683.4,1456.6 688.8,1321.4 694.1,1453.4 699.5,1330.7 704.8,1438.4 710.1,1350.8 715.5,1414.2 720.8,1378.0" fill="none" stroke="#ff0000" stroke-width="2" stroke-linejoin="round" stroke-linecap="round"/>
<circle cx="459.2" cy="1322.6" r="3.7" fill="#ff0000"/>
<circle cx="464.5" cy="1450.7" r="3.7" fill="#ff0000"/>
<circle cx="469.9" cy="1334.9" r="3.7" fill="#ff0000"/>
<circle cx="475.2" cy="1433.0" r="3.7" fill="#ff0000"/>
<circle cx="480.6" cy="1357.1" r="3.7" fill="#ff0000"/>
<circle cx="485.9" cy="1407.2" r="3.7" fill="#ff0000"/>
<circle cx="491.2" cy="1385.3" r="3.7" fill="#ff0000"/>
<circle cx="496.6" cy="1378.0" r="3.7" fill="#ff0000"/>
<circle cx="501.9" cy="1414.2" r="3.7" fill="#ff0000"/>
<circle cx="507.3" cy="1350.8" r="3.7" fill="#ff0000"/>
<circle cx="512.6" cy="1438.4" r="3.7" fill="#ff0000"/>
<circle cx="517.9" cy="1330.7" r="3.7" fill="#ff0000"/>
<circle cx="523.3" cy="1453.4" r="3.7" fill="#ff0000"/>
<circle cx="528.6" cy="1321.4" r="3.7" fill="#ff0000"/>
<circle cx="533.9" cy="1456.6" r="3.7" fill="#ff0000"/>
<circle cx="539.3" cy="1324.6" r="3.7" fill="#ff0000"/>
<circle cx="544.6" cy="1447.3" r="3.7" fill="#ff0000"/>
<circle cx="550.0" cy="1339.6" r="3.7" fill="#ff0000"/>
<circle cx="555.3" cy="1427.2" r="3.7" fill="#ff0000"/>
<circle cx="560.6" cy="1363.8" r="3.7" fill="#ff0000"/>
<circle cx="566.0" cy="1400.0" r="3.7" fill="#ff0000"/>
<circle cx="571.3" cy="1392.7" r="3.7" fill="#ff0000"/>
<circle cx="576.7" cy="1370.8" r="3.7" fill="#ff0000"/>
<circle cx="582.0" cy="1420.9" r="3.7" fill="#ff0000"/>
<circle cx="587.3" cy="1345.0" r="3.7" fill="#ff0000"/>
<circle cx="592.7" cy="1443.1" r="3.7" fill="#ff0000"/>
<circle cx="598.0" cy="1327.3" r="3.7" fill="#ff0000"/>
<circle cx="603.4" cy="1455.4" r="3.7" fill="#ff0000"/>
<circle cx="608.7" cy="1321.0" r="3.7" fill="#ff0000"/>
<circle cx="614.0" cy="1455.4" r="3.7" fill="#ff0000"/>
<circle cx="619.4" cy="1327.3" r="3.7" fill="#ff0000"/>
<circle cx="624.7" cy="1443.1" r="3.7" fill="#ff0000"/>
<circle cx="630.0" cy="1345.0" r="3.7" fill="#ff0000"/>
<circle cx="635.4" cy="1420.9" r="3.7" fill="#ff0000"/>
<circle cx="640.7" cy="1370.8" r="3.7" fill="#ff0000"/>
<circle cx="646.1" cy="1392.7" r="3.7" fill="#ff0000"/>
<circle cx="651.4" cy="1400.0" r="3.7" fill="#ff0000"/>
<circle cx="656.7" cy="1363.8" r="3.7" fill="#ff0000"/>
<circle cx="662.1" cy="1427.2" r="3.7" fill="#ff0000"/>
<circle cx="667.4" cy="1339.6" r="3.7" fill="#ff0000"/>
<circle cx="672.8" cy="1447.3" r="3.7" fill="#ff0000"/>
<circle cx="678.1" cy="1324.6" r="3.7" fill="#ff0000"/>
<circle cx="683.4" cy="1456.6" r="3.7" fill="#ff0000"/>
<circle cx="688.8" cy="1321.4" r="3.7" fill="#ff0000"/>
<circle cx="694.1" cy="1453.4" r="3.7" fill="#ff0000"/>
<circle cx="699.5" cy="1330.7" r="3.7" fill="#ff0000"/>
<circle cx="704.8" cy="1438.4" r="3.7" fill="#ff0000"/>
<circle cx="710.1" cy="1350.8" r="3.7" fill="#ff0000"/>
<circle cx="715.5" cy="1414.2" r="3.7" fill="#ff0000"/>
<circle cx="720.8" cy="1378.0" r="3.7" fill="#ff0000"/>
<polyline points="459.2,1514.0 464.5,1550.2 469.9,1486.8 475.2,1574.4 480.6,1466.7 485.9,1589.4 491.2,1457.4 496.6,1592.6 501.9,1460.6 507.3,1583.3 512.6,1475.6 517.9,1563.2 523.3,1499.8 528.6,1536.0 533.9,1528.7 539.3,1506.8 544.6,1556.9 550.0,1481.0 555.3,1579.1 560.6,1463.3 566.0,1591.4 571.3,1457.0 576.7,1591.4 582.0,1463.3 587.3,1579.1 592.7,1481.0 598.0,1556.9 603.4,1506.8 608.7,1528.7 614.0,1536.0 619.4,1499.8 624.7,1563.2 630.0,1475.6 635.4,1583.3 640.7,1460.6 646.1,1592.6 651.4,1457.4 656.7,1589.4 662.1,1466.7 667.4,1574.4 672.8,1486.8 678.1,1550.2 683.4,1514.0 688.8,1521.3 694.1,1543.2 699.5,1493.1 704.8,1569.0 710.1,1470.9 715.5,1586.7 720.8,1458.6" fill="none" stroke="#0000ff" stroke-width="2" stroke-linejoin="round" stroke-linecap="round"/>
<circle cx="459.2" cy="1514.0" r="3.7" fill="#0000ff"/>
<circle cx="464.5" cy="1550.2" r="3.7" fill="#0000ff"/>
<circle cx="469.9" cy="1486.8" r="3.7" fill="#0000ff"/>
<circle cx="475.2" cy="1574.4" r="3.7" fill="#0000ff"/>
<circle cx="480.6" cy="1466.7" r="3.7" fill="#0000ff"/>
<circle cx="485.9" cy="1589.4" r="3.7" fill="#0000ff"/>
<circle cx="491.2" cy="1457.4" r="3.7" fill="#0000ff"/>
<circle cx="496.6" cy="1592.6" r="3.7" fill="#0000ff"/>
<circle cx="501.9" cy="1460.6" r="3.7" fill="#0000ff"/>
<circle cx="507.3" cy="1583.3" r="3.7" fill="#0000ff"/>
<circle cx="512.6" cy="1475.6" r="3.7" fill="#0000ff"/>
<circle cx="517.9" cy="1563.2" r="3.7" fill="#0000ff"/>
<circle cx="523.3" cy="1499.8" r="3.7" fill="#0000ff"/>
<circle cx="528.6" cy="1536.0" r="3.7" fill="#0000ff"/>
<circle cx="533.9" cy="1528.7" r="3.7" fill="#0000ff"/>
<circle cx="539.3" cy="1506.8" r="3.7" fill="#0000ff"/>
<circle cx="544.6" cy="1556.9" r="3.7" fill="#0000ff"/>
<circle cx="550.0" cy="1481.0" r="3.7" fill="#0000ff"/>
<circle cx="555.3" cy="1579.1" r="3.7" fill="#0000ff"/>
<circle cx="560.6" cy="1463.3" r="3.7" fill="#0000ff"/>
<circle cx="566.0" cy="1591.4" r="3.7" fill="#0000ff"/>
<circle cx="571.3" cy="1457.0" r="3.7" fill="#0000ff"/>
<circle cx="576.7" cy="1591.4" r="3.7" fill="#0000ff"/>
<circle cx="582.0" cy="1463.3" r="3.7" fill="#0000ff"/>
<circle cx="587.3" cy="1579.1" r="3.7" fill="#0000ff"/>
<circle cx="592.7" cy="1481.0" r="3.7" fill="#0000ff"/>
<circle cx="598.0" cy="1556.9" r="3.7" fill="#0000ff"/>
<circle cx="603.4" cy="1506.8" r="3.7" fill="#0000ff"/>
<circle cx="608.7" cy="1528.7" r="3.7" fill="#0000ff"/>
<circle cx="614.0" cy="1536.0" r="3.7" fill="#0000ff"/>
<circle cx="619.4" cy="1499.8" r="3.7" fill="#0000ff"/>
<circle cx="624.7" cy="1563.2" r="3.7" fill="#0000ff"/>
<circle cx="630.0" cy="1475.6" r="3.7" fill="#0000ff"/>
<circle cx="635.4" cy="1583.3" r="3.7" fill="#0000ff"/>
<circle cx="640.7" cy="1460.6" r="3.7" fill="#0000ff"/>
<circle cx="646.1" cy="1592.6" r="3.7" fill="#0000ff"/>
<circle cx="651.4" cy="1457.4" r="3.7" fill="#0000ff"/>
<circle cx="656.7" cy="1589.4" r="3.7" fill="#0000ff"/>
<circle cx="662.1" cy="1466.7" r="3.7" fill="#0000ff"/>
<circle cx="667.4" cy="1574.4" r="3.7" fill="#0000ff"/>
<circle cx="672.8" cy="1486.8" r="3.7" fill="#0000ff"/>
<circle cx="678.1" cy="1550.2" r="3.7" fill="#0000ff"/>
<circle cx="683.4" cy="1514.0" r="3.7" fill="#0000ff"/>
<circle cx="688.8" cy="1521.3" r="3.7" fill="#0000ff"/>
<circle cx="694.1" cy="1543.2" r="3.7" fill="#0000ff"/>
<circle cx="699.5" cy="1493.1" r="3.7" fill="#0000ff"/>
<circle cx="704.8" cy="1569.0" r="3.7" fill="#0000ff"/>
<circle cx="710.1" cy="1470.9" r="3.7" fill="#0000ff"/>
<circle cx="715.5" cy="1586.7" r="3.7" fill="#0000ff"/>
<circle cx="720.8" cy="1458.6" r="3.7" fill="#0000ff"/>
<line x1="451.5" y1="1334.1" x2="459.2" y2="1334.1" stroke="#000" stroke-width="1.3"/>
<text x="443" y="1346.8" font-size="34.5" font-family='"Liberation Serif", serif' fill="#ff0000" text-anchor="end">6</text>
<line x1="451.5" y1="1377" x2="459.2" y2="1377" stroke="#000" stroke-width="1.3"/>
<text x="443" y="1389.7" font-size="34.5" font-family='"Liberation Serif", serif' fill="#ff0000" text-anchor="end">4</text>
<line x1="451.5" y1="1420.3" x2="459.2" y2="1420.3" stroke="#000" stroke-width="1.3"/>
<text x="443" y="1433.0" font-size="34.5" font-family='"Liberation Serif", serif' fill="#ff0000" text-anchor="end">2</text>
<line x1="451.5" y1="1463.4" x2="459.2" y2="1463.4" stroke="#000" stroke-width="1.3"/>
<text x="443" y="1476.1000000000001" font-size="34.5" font-family='"Liberation Serif", serif' fill="#0000ff" text-anchor="end">6</text>
<line x1="451.5" y1="1506.9" x2="459.2" y2="1506.9" stroke="#000" stroke-width="1.3"/>
<text x="443" y="1519.6000000000001" font-size="34.5" font-family='"Liberation Serif", serif' fill="#0000ff" text-anchor="end">4</text>
<line x1="451.5" y1="1550" x2="459.2" y2="1550" stroke="#000" stroke-width="1.3"/>
<text x="443" y="1562.7" font-size="34.5" font-family='"Liberation Serif", serif' fill="#0000ff" text-anchor="end">2</text>
<line x1="451.5" y1="1593.1" x2="459.2" y2="1593.1" stroke="#000" stroke-width="1.3"/>
<text x="443" y="1605.8" font-size="34.5" font-family='"Liberation Serif", serif' fill="#0000ff" text-anchor="end">0</text>
<text x="727.5" y="1469.6" font-size="33" font-family='"Liberation Serif", serif' fill="#ff0000">0</text>
<line x1="459.2" y1="1593.2" x2="459.2" y2="1599.7" stroke="#000" stroke-width="1.3"/>
<text x="462.2" y="1630.2" font-size="33.5" font-family='"Liberation Serif", serif' fill="#000" text-anchor="middle">1</text>
<line x1="587" y1="1593.2" x2="587" y2="1599.7" stroke="#000" stroke-width="1.3"/>
<text x="587" y="1630.2" font-size="33.5" font-family='"Liberation Serif", serif' fill="#000" text-anchor="middle" textLength="34.6" lengthAdjust="spacingAndGlyphs">50</text>
<line x1="720.8" y1="1593.2" x2="720.8" y2="1599.7" stroke="#000" stroke-width="1.3"/>
<text x="720.8" y="1630.2" font-size="33.5" font-family='"Liberation Serif", serif' fill="#000" text-anchor="middle" textLength="53.2" lengthAdjust="spacingAndGlyphs">100</text>
<text x="590" y="1664.9" font-size="33" font-family='"Liberation Serif", serif' fill="#000" text-anchor="middle" textLength="245" lengthAdjust="spacingAndGlyphs">Atomic site index</text>
<text x="474.3" y="1342.5" font-size="34.5" font-family='"Liberation Serif", serif' fill="#000" textLength="38.7" lengthAdjust="spacingAndGlyphs">(g)</text>
<line x1="826.5" y1="1594.0" x2="834.2" y2="1594.0" stroke="#000" stroke-width="1.3"/>
<text x="817.8" y="1607.0" font-size="34.5" font-family='"Liberation Serif", serif' fill="#000" text-anchor="end">0</text>
<line x1="826.5" y1="1543.68" x2="834.2" y2="1543.68" stroke="#000" stroke-width="1.3"/>
<text x="817.8" y="1556.68" font-size="34.5" font-family='"Liberation Serif", serif' fill="#000" text-anchor="end">2</text>
<line x1="826.5" y1="1493.36" x2="834.2" y2="1493.36" stroke="#000" stroke-width="1.3"/>
<text x="817.8" y="1506.36" font-size="34.5" font-family='"Liberation Serif", serif' fill="#000" text-anchor="end">4</text>
<line x1="826.5" y1="1443.04" x2="834.2" y2="1443.04" stroke="#000" stroke-width="1.3"/>
<text x="817.8" y="1456.04" font-size="34.5" font-family='"Liberation Serif", serif' fill="#000" text-anchor="end">6</text>
<line x1="826.5" y1="1392.72" x2="834.2" y2="1392.72" stroke="#000" stroke-width="1.3"/>
<text x="817.8" y="1405.72" font-size="34.5" font-family='"Liberation Serif", serif' fill="#000" text-anchor="end">8</text>
<line x1="826.5" y1="1342.4" x2="834.2" y2="1342.4" stroke="#000" stroke-width="1.3"/>
<text x="817.8" y="1355.4" font-size="34.5" font-family='"Liberation Serif", serif' fill="#000" text-anchor="end" textLength="36.5" lengthAdjust="spacingAndGlyphs">10</text>
<polyline points="834.5,1335.6 839.8,1479.2 845.2,1543.0 850.5,1571.3 855.8,1583.9 861.2,1589.5 866.5,1592.0 871.8,1593.1 877.2,1593.6 882.5,1593.8 887.8,1593.9 893.2,1594.0 898.5,1594.0 903.8,1594.0 909.2,1594.0 914.5,1594.0 919.8,1594.0 925.2,1594.0 930.5,1594.0 935.8,1594.0 941.2,1594.0 946.5,1594.0 951.8,1594.0 957.2,1594.0 962.5,1594.0 967.8,1594.0 973.2,1594.0 978.5,1594.0 983.8,1594.0 989.2,1594.0 994.5,1594.0 999.8,1594.0 1005.2,1594.0 1010.5,1594.0 1015.8,1594.0 1021.2,1594.0 1026.5,1594.0 1031.8,1594.0 1037.2,1594.0 1042.5,1594.0 1047.8,1594.0 1053.2,1594.0 1058.5,1594.0 1063.8,1594.0 1069.2,1594.0 1074.5,1594.0 1079.8,1594.0 1085.2,1594.0 1090.5,1594.0 1095.8,1594.0" fill="none" stroke="#0000ee" stroke-width="2.4" stroke-linejoin="round" stroke-linecap="round"/>
<circle cx="834.5" cy="1335.6" r="6.9" fill="#0000ff"/>
<circle cx="839.8" cy="1479.2" r="6.9" fill="#0000ff"/>
<circle cx="845.2" cy="1543.0" r="6.9" fill="#0000ff"/>
<circle cx="850.5" cy="1571.3" r="6.9" fill="#0000ff"/>
<circle cx="855.8" cy="1583.9" r="6.9" fill="#0000ff"/>
<circle cx="861.2" cy="1589.5" r="6.9" fill="#0000ff"/>
<circle cx="866.5" cy="1592.0" r="6.9" fill="#0000ff"/>
<circle cx="871.8" cy="1593.1" r="6.9" fill="#0000ff"/>
<circle cx="877.2" cy="1593.6" r="6.9" fill="#0000ff"/>
<circle cx="882.5" cy="1593.8" r="6.9" fill="#0000ff"/>
<circle cx="887.8" cy="1593.9" r="6.9" fill="#0000ff"/>
<circle cx="893.2" cy="1594.0" r="6.9" fill="#0000ff"/>
<circle cx="898.5" cy="1594.0" r="6.9" fill="#0000ff"/>
<circle cx="903.8" cy="1594.0" r="6.9" fill="#0000ff"/>
<circle cx="909.2" cy="1594.0" r="6.9" fill="#0000ff"/>
<circle cx="914.5" cy="1594.0" r="6.9" fill="#0000ff"/>
<circle cx="919.8" cy="1594.0" r="6.9" fill="#0000ff"/>
<circle cx="925.2" cy="1594.0" r="6.9" fill="#0000ff"/>
<circle cx="930.5" cy="1594.0" r="6.9" fill="#0000ff"/>
<circle cx="935.8" cy="1594.0" r="6.9" fill="#0000ff"/>
<circle cx="941.2" cy="1594.0" r="6.9" fill="#0000ff"/>
<circle cx="946.5" cy="1594.0" r="6.9" fill="#0000ff"/>
<circle cx="951.8" cy="1594.0" r="6.9" fill="#0000ff"/>
<circle cx="957.2" cy="1594.0" r="6.9" fill="#0000ff"/>
<circle cx="962.5" cy="1594.0" r="6.9" fill="#0000ff"/>
<circle cx="967.8" cy="1594.0" r="6.9" fill="#0000ff"/>
<circle cx="973.2" cy="1594.0" r="6.9" fill="#0000ff"/>
<circle cx="978.5" cy="1594.0" r="6.9" fill="#0000ff"/>
<circle cx="983.8" cy="1594.0" r="6.9" fill="#0000ff"/>
<circle cx="989.2" cy="1594.0" r="6.9" fill="#0000ff"/>
<circle cx="994.5" cy="1594.0" r="6.9" fill="#0000ff"/>
<circle cx="999.8" cy="1594.0" r="6.9" fill="#0000ff"/>
<circle cx="1005.2" cy="1594.0" r="6.9" fill="#0000ff"/>
<circle cx="1010.5" cy="1594.0" r="6.9" fill="#0000ff"/>
<circle cx="1015.8" cy="1594.0" r="6.9" fill="#0000ff"/>
<circle cx="1021.2" cy="1594.0" r="6.9" fill="#0000ff"/>
<circle cx="1026.5" cy="1594.0" r="6.9" fill="#0000ff"/>
<circle cx="1031.8" cy="1594.0" r="6.9" fill="#0000ff"/>
<circle cx="1037.2" cy="1594.0" r="6.9" fill="#0000ff"/>
<circle cx="1042.5" cy="1594.0" r="6.9" fill="#0000ff"/>
<circle cx="1047.8" cy="1594.0" r="6.9" fill="#0000ff"/>
<circle cx="1053.2" cy="1594.0" r="6.9" fill="#0000ff"/>
<circle cx="1058.5" cy="1594.0" r="6.9" fill="#0000ff"/>
<circle cx="1063.8" cy="1594.0" r="6.9" fill="#0000ff"/>
<circle cx="1069.2" cy="1594.0" r="6.9" fill="#0000ff"/>
<circle cx="1074.5" cy="1594.0" r="6.9" fill="#0000ff"/>
<circle cx="1079.8" cy="1594.0" r="6.9" fill="#0000ff"/>
<circle cx="1085.2" cy="1594.0" r="6.9" fill="#0000ff"/>
<circle cx="1090.5" cy="1594.0" r="6.9" fill="#0000ff"/>
<circle cx="1095.8" cy="1594.0" r="6.9" fill="#0000ff"/>
<polyline points="834.5,1594.0 839.8,1594.0 845.1,1594.0 850.5,1594.0 855.8,1594.0 861.1,1594.0 866.5,1594.0 871.8,1594.0 877.1,1594.0 882.5,1594.0 887.8,1594.0 893.1,1594.0 898.5,1594.0 903.8,1594.0 909.1,1594.0 914.5,1594.0 919.8,1594.0 925.1,1594.0 930.5,1594.0 935.8,1594.0 941.1,1594.0 946.5,1594.0 951.8,1594.0 957.1,1594.0 962.5,1594.0 967.8,1594.0 973.1,1594.0 978.5,1594.0 983.8,1594.0 989.1,1594.0 994.5,1594.0 999.8,1594.0 1005.1,1594.0 1010.5,1594.0 1015.8,1594.0 1021.1,1594.0 1026.5,1594.0 1031.8,1594.0 1037.1,1594.0 1042.5,1593.9 1047.8,1593.8 1053.1,1593.6 1058.5,1593.1 1063.8,1592.0 1069.1,1589.5 1074.5,1583.9 1079.8,1571.3 1085.1,1543.0 1090.5,1479.2 1095.8,1335.6" fill="none" stroke="#ff0000" stroke-width="2.4" stroke-linejoin="round" stroke-linecap="round"/>
<circle cx="834.5" cy="1594.0" r="6.9" fill="#ff0000"/>
<circle cx="839.8" cy="1594.0" r="6.9" fill="#ff0000"/>
<circle cx="845.1" cy="1594.0" r="6.9" fill="#ff0000"/>
<circle cx="850.5" cy="1594.0" r="6.9" fill="#ff0000"/>
<circle cx="855.8" cy="1594.0" r="6.9" fill="#ff0000"/>
<circle cx="861.1" cy="1594.0" r="6.9" fill="#ff0000"/>
<circle cx="866.5" cy="1594.0" r="6.9" fill="#ff0000"/>
<circle cx="871.8" cy="1594.0" r="6.9" fill="#ff0000"/>
<circle cx="877.1" cy="1594.0" r="6.9" fill="#ff0000"/>
<circle cx="882.5" cy="1594.0" r="6.9" fill="#ff0000"/>
<circle cx="887.8" cy="1594.0" r="6.9" fill="#ff0000"/>
<circle cx="893.1" cy="1594.0" r="6.9" fill="#ff0000"/>
<circle cx="898.5" cy="1594.0" r="6.9" fill="#ff0000"/>
<circle cx="903.8" cy="1594.0" r="6.9" fill="#ff0000"/>
<circle cx="909.1" cy="1594.0" r="6.9" fill="#ff0000"/>
<circle cx="914.5" cy="1594.0" r="6.9" fill="#ff0000"/>
<circle cx="919.8" cy="1594.0" r="6.9" fill="#ff0000"/>
<circle cx="925.1" cy="1594.0" r="6.9" fill="#ff0000"/>
<circle cx="930.5" cy="1594.0" r="6.9" fill="#ff0000"/>
<circle cx="935.8" cy="1594.0" r="6.9" fill="#ff0000"/>
<circle cx="941.1" cy="1594.0" r="6.9" fill="#ff0000"/>
<circle cx="946.5" cy="1594.0" r="6.9" fill="#ff0000"/>
<circle cx="951.8" cy="1594.0" r="6.9" fill="#ff0000"/>
<circle cx="957.1" cy="1594.0" r="6.9" fill="#ff0000"/>
<circle cx="962.5" cy="1594.0" r="6.9" fill="#ff0000"/>
<circle cx="967.8" cy="1594.0" r="6.9" fill="#ff0000"/>
<circle cx="973.1" cy="1594.0" r="6.9" fill="#ff0000"/>
<circle cx="978.5" cy="1594.0" r="6.9" fill="#ff0000"/>
<circle cx="983.8" cy="1594.0" r="6.9" fill="#ff0000"/>
<circle cx="989.1" cy="1594.0" r="6.9" fill="#ff0000"/>
<circle cx="994.5" cy="1594.0" r="6.9" fill="#ff0000"/>
<circle cx="999.8" cy="1594.0" r="6.9" fill="#ff0000"/>
<circle cx="1005.1" cy="1594.0" r="6.9" fill="#ff0000"/>
<circle cx="1010.5" cy="1594.0" r="6.9" fill="#ff0000"/>
<circle cx="1015.8" cy="1594.0" r="6.9" fill="#ff0000"/>
<circle cx="1021.1" cy="1594.0" r="6.9" fill="#ff0000"/>
<circle cx="1026.5" cy="1594.0" r="6.9" fill="#ff0000"/>
<circle cx="1031.8" cy="1594.0" r="6.9" fill="#ff0000"/>
<circle cx="1037.1" cy="1594.0" r="6.9" fill="#ff0000"/>
<circle cx="1042.5" cy="1593.9" r="6.9" fill="#ff0000"/>
<circle cx="1047.8" cy="1593.8" r="6.9" fill="#ff0000"/>
<circle cx="1053.1" cy="1593.6" r="6.9" fill="#ff0000"/>
<circle cx="1058.5" cy="1593.1" r="6.9" fill="#ff0000"/>
<circle cx="1063.8" cy="1592.0" r="6.9" fill="#ff0000"/>
<circle cx="1069.1" cy="1589.5" r="6.9" fill="#ff0000"/>
<circle cx="1074.5" cy="1583.9" r="6.9" fill="#ff0000"/>
<circle cx="1079.8" cy="1571.3" r="6.9" fill="#ff0000"/>
<circle cx="1085.1" cy="1543.0" r="6.9" fill="#ff0000"/>
<circle cx="1090.5" cy="1479.2" r="6.9" fill="#ff0000"/>
<circle cx="1095.8" cy="1335.6" r="6.9" fill="#ff0000"/>
<rect x="834.2" y="1316.7" width="261.5999999999999" height="277.29999999999995" fill="none" stroke="#000" stroke-width="1.5" opacity="0.85"/>
<text x="837.5" y="1630.2" font-size="33.5" font-family='"Liberation Serif", serif' fill="#000" text-anchor="middle">1</text>
<text x="962" y="1630.2" font-size="33.5" font-family='"Liberation Serif", serif' fill="#000" text-anchor="middle" textLength="34.6" lengthAdjust="spacingAndGlyphs">50</text>
<text x="1095.8" y="1630.2" font-size="33.5" font-family='"Liberation Serif", serif' fill="#000" text-anchor="middle" textLength="53.2" lengthAdjust="spacingAndGlyphs">100</text>
<text x="965" y="1664.9" font-size="33" font-family='"Liberation Serif", serif' fill="#000" text-anchor="middle" textLength="245" lengthAdjust="spacingAndGlyphs">Atomic site index</text>
<text x="940" y="1431" font-size="37" font-family='"Liberation Serif", serif' fill="#000" textLength="41" lengthAdjust="spacingAndGlyphs">(h)</text>
</svg>
</body></html>
